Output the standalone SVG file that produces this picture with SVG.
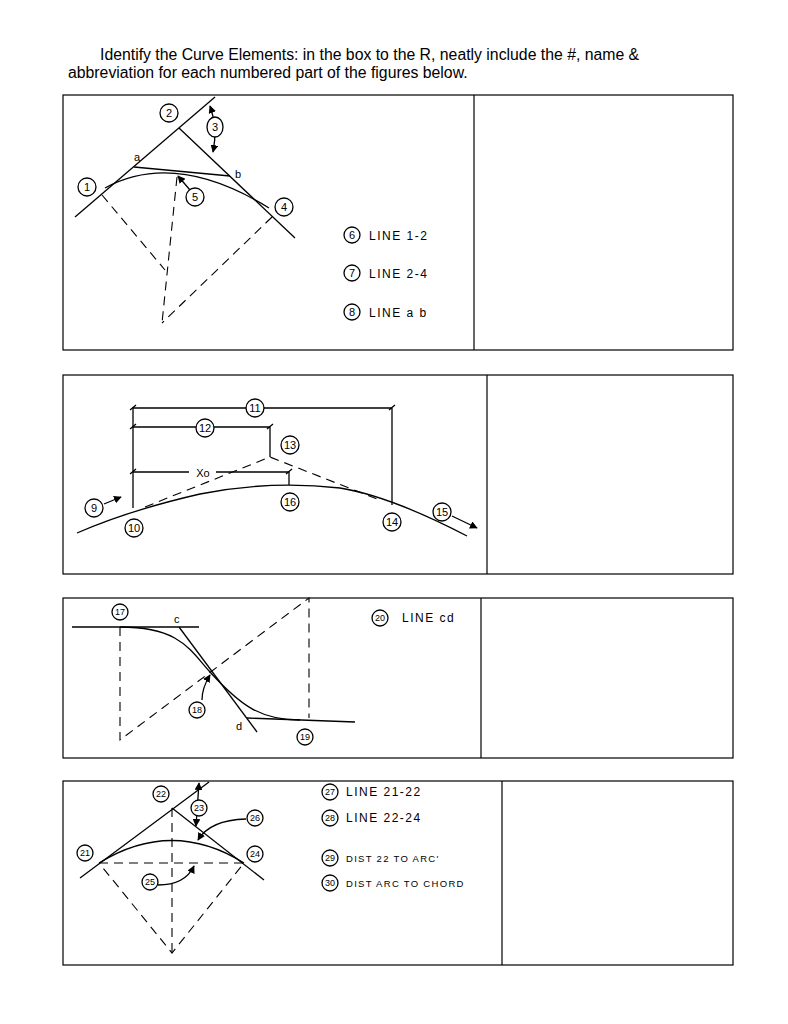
<svg xmlns="http://www.w3.org/2000/svg" width="788" height="1024" viewBox="0 0 788 1024">
<style>
.box{fill:none;stroke:#000;stroke-width:1.2}
.ln{fill:none;stroke:#000;stroke-width:1.3}
.ds{fill:none;stroke:#000;stroke-width:1.1;stroke-dasharray:9 6}
.c{fill:#fff;stroke:#000;stroke-width:1.3}
.n{font-family:"Liberation Sans",Arial,sans-serif;font-size:11px;text-anchor:middle}
.m{font-family:"Liberation Sans",Arial,sans-serif;font-size:9px;text-anchor:middle}
.h{font-family:"Liberation Sans",Arial,sans-serif;font-size:15.8px}
.t{font-family:"Liberation Sans",Arial,sans-serif;font-size:12px;letter-spacing:1.5px}
.u{font-family:"Liberation Sans",Arial,sans-serif;font-size:9.5px;letter-spacing:1.3px}
.s{font-family:"Liberation Sans",Arial,sans-serif;font-size:11px}
</style>
<defs>
<marker id="ar" viewBox="0 0 10 10" refX="9" refY="5" markerWidth="6" markerHeight="6" orient="auto-start-reverse"><path d="M0,0 L10,5 L0,10 z"/></marker>
</defs>
<rect width="788" height="1024" fill="#fff"/>
<text class="h" x="100" y="60">Identify the Curve Elements: in the box to the R, neatly include the #, name &amp;</text>
<text class="h" x="68" y="78">abbreviation for each numbered part of the figures below.</text>

<g id="panel1">
<rect class="box" x="63" y="95" width="670" height="255"/>
<line class="box" x1="474" y1="95" x2="474" y2="350"/>
</g>
<g id="panel2">
<rect class="box" x="63" y="375" width="670" height="199"/>
<line class="box" x1="487" y1="375" x2="487" y2="574"/>
</g>
<g id="panel3">
<rect class="box" x="63" y="598" width="670" height="160"/>
<line class="box" x1="481" y1="598" x2="481" y2="758"/>
</g>
<g id="panel4">
<rect class="box" x="63" y="781" width="670" height="184"/>
<line class="box" x1="502" y1="781" x2="502" y2="965"/>
</g>

<g id="connectors">
<line class="ln" x1="75" y1="217" x2="215" y2="97"/>
<line class="ln" x1="179" y1="128" x2="295" y2="238"/>
<path class="ln" d="M105,188 Q175,150 269,208"/>
<line class="ln" x1="134" y1="167" x2="230" y2="176"/>
<line class="ds" x1="102" y1="195" x2="165" y2="270"/>
<line class="ds" x1="272" y1="217" x2="162" y2="323"/>
<line class="ds" x1="177" y1="177" x2="162" y2="323"/>
<path class="ln" d="M210,106 Q218,128 213,152" marker-start="url(#ar)" marker-end="url(#ar)"/>
<line class="ln" x1="190" y1="190" x2="178" y2="176" marker-end="url(#ar)"/>
<path class="ln" d="M77,533 Q130,510 200,494 Q270,480 340,488 Q390,496 467,536"/>
<line class="ln" x1="133" y1="407" x2="133" y2="508"/>
<line class="ln" x1="133" y1="408" x2="392" y2="408"/>
<line class="ln" x1="392" y1="408" x2="392" y2="505"/>
<line class="ln" x1="133" y1="427" x2="270" y2="427"/>
<line class="ln" x1="270" y1="427" x2="270" y2="457"/>
<line class="ln" x1="133" y1="472" x2="189" y2="472"/>
<line class="ln" x1="216" y1="472" x2="289" y2="472"/>
<line class="ln" x1="289" y1="472" x2="289" y2="485"/>
<path class="ln" d="M130,410 l6,-5 M130,429 l6,-5 M130,474 l6,-5 M389,410 l6,-5 M267,429 l6,-5 M286,474 l6,-5"/>
<polyline class="ds" points="145,507 270,457 382,501"/>
<line class="ln" x1="104" y1="504" x2="121" y2="497" marker-end="url(#ar)"/>
<line class="ln" x1="452" y1="516" x2="477" y2="528" marker-end="url(#ar)"/>
<line class="ln" x1="72" y1="627" x2="199" y2="627"/>
<path class="ln" d="M120,627 C180,627 190,650 210,672 C240,705 260,720 300,720"/>
<line class="ln" x1="247" y1="718" x2="355" y2="722"/>
<line class="ln" x1="179" y1="627" x2="257" y2="732"/>
<polyline class="ds" points="120,627 120,740 309,598 309,718"/>
<path class="ln" d="M202,700 Q202,688 210,675" marker-end="url(#ar)"/>
<line class="ln" x1="80" y1="878" x2="209" y2="782"/>
<line class="ln" x1="172" y1="808" x2="264" y2="880"/>
<path class="ln" d="M99,863 Q172,818 244,863"/>
<polyline class="ds" points="99,863 244,863 172,953 99,863"/>
<line class="ds" x1="172" y1="808" x2="172" y2="953"/>
<path class="ln" d="M199,783 L196,826" marker-start="url(#ar)" marker-end="url(#ar)"/>
<path class="ln" d="M246,819 Q210,820 198,840" marker-end="url(#ar)"/>
<path class="ln" d="M158,885 Q185,885 194,866" marker-end="url(#ar)"/>
</g>

<g id="labels">
<circle class="c" cx="169" cy="113" r="9"/><text class="n" x="169" y="117">2</text>
<ellipse class="c" cx="215" cy="127" rx="8" ry="10"/><text class="n" x="215" y="131">3</text>
<circle class="c" cx="87" cy="187" r="9"/><text class="n" x="87" y="191">1</text>
<circle class="c" cx="195" cy="197" r="9"/><text class="n" x="195" y="201">5</text>
<circle class="c" cx="284" cy="207" r="9"/><text class="n" x="284" y="211">4</text>
<text class="s" x="134" y="161">a</text>
<text class="s" x="235" y="178">b</text>
<circle class="c" cx="352" cy="235" r="8"/><text class="n" x="352" y="239">6</text>
<text class="t" x="369" y="240">LINE  1-2</text>
<circle class="c" cx="352" cy="273" r="8"/><text class="n" x="352" y="277">7</text>
<text class="t" x="369" y="278">LINE  2-4</text>
<circle class="c" cx="352" cy="312" r="8"/><text class="n" x="352" y="316">8</text>
<text class="t" x="369" y="317">LINE  a b</text>

<circle class="c" cx="255" cy="408" r="9"/><text class="n" x="255" y="412">11</text>
<circle class="c" cx="205" cy="428" r="9"/><text class="n" x="205" y="432">12</text>
<circle class="c" cx="290" cy="445" r="9"/><text class="n" x="290" y="449">13</text>
<text class="n" x="203" y="477" font-size="13">Xo</text>
<circle class="c" cx="290" cy="502" r="9"/><text class="n" x="290" y="506">16</text>
<circle class="c" cx="94" cy="508" r="9"/><text class="n" x="94" y="512">9</text>
<circle class="c" cx="134" cy="528" r="9"/><text class="n" x="134" y="532">10</text>
<circle class="c" cx="392" cy="522" r="9"/><text class="n" x="392" y="526">14</text>
<circle class="c" cx="442" cy="512" r="9"/><text class="n" x="442" y="516">15</text>

<circle class="c" cx="120" cy="612" r="8"/><text class="m" x="120" y="615">17</text>
<text class="s" x="174" y="623" font-size="9">c</text>
<circle class="c" cx="197" cy="710" r="8"/><text class="m" x="197" y="713">18</text>
<text class="s" x="236" y="730">d</text>
<circle class="c" cx="305" cy="737" r="8"/><text class="m" x="305" y="740">19</text>
<circle class="c" cx="380" cy="618" r="8"/><text class="m" x="380" y="621">20</text>
<text class="t" x="402" y="622">LINE  cd</text>

<circle class="c" cx="161" cy="794" r="8"/><text class="m" x="161" y="797">22</text>
<circle class="c" cx="199" cy="808" r="8"/><text class="m" x="199" y="811">23</text>
<circle class="c" cx="255" cy="818" r="8"/><text class="m" x="255" y="821">26</text>
<circle class="c" cx="85" cy="853" r="8"/><text class="m" x="85" y="856">21</text>
<circle class="c" cx="255" cy="854" r="8"/><text class="m" x="255" y="857">24</text>
<circle class="c" cx="150" cy="882" r="8"/><text class="m" x="150" y="885">25</text>
<circle class="c" cx="330" cy="792" r="8"/><text class="m" x="330" y="795">27</text>
<text class="t" x="346" y="796">LINE  21-22</text>
<circle class="c" cx="330" cy="818" r="8"/><text class="m" x="330" y="821">28</text>
<text class="t" x="346" y="822">LINE  22-24</text>
<circle class="c" cx="330" cy="858" r="8"/><text class="m" x="330" y="861">29</text>
<text class="u" x="346" y="862">DIST  22  TO  ARC'</text>
<circle class="c" cx="330" cy="883" r="8"/><text class="m" x="330" y="886">30</text>
<text class="u" x="346" y="887">DIST  ARC  TO  CHORD</text>
</g>
</svg>
